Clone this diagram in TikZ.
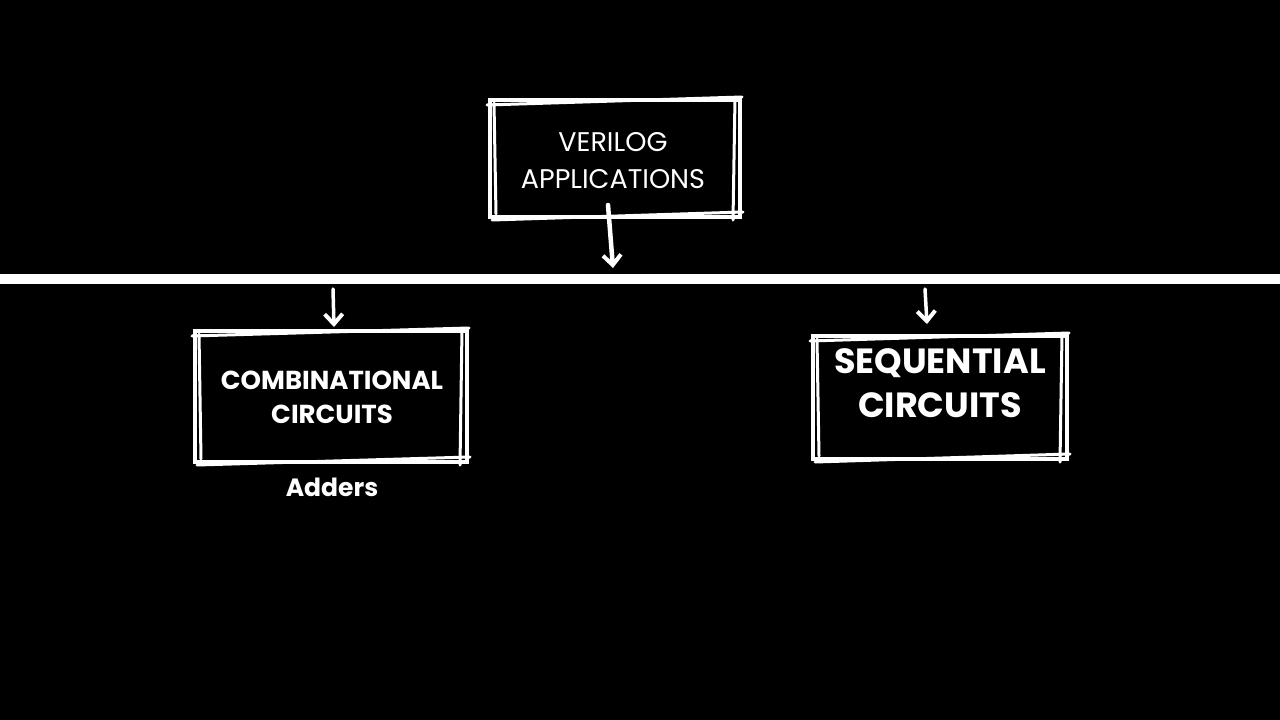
\documentclass[tikz,border=0pt]{standalone}
\usepackage{fontspec}
\setmainfont{Poppins}
\usetikzlibrary{arrows.meta}
\tikzset{
  sk/.style={draw=white,line width=4.5pt,line cap=round},
  skt/.style={draw=white,line width=3pt,line cap=round},
  arr/.style={white,line width=4.5pt,line cap=round,-{Straight Barb[length=10pt,width=18pt,line width=4pt]}},
  lbl/.style={text=white,align=center}
}
\newcommand{\sketchbox}[4]{%
  \draw[sk] (#1,#2) -- (#3,#2) -- (#3,#4) -- (#1,#4) -- cycle;
  \draw[skt] (#1-3,#2+5) -- (#3+2,#2-3);
  \draw[skt] (#3-5,#2-2) -- (#3-7,#4+3);
  \draw[skt] (#3+3,#4-5) -- (#1+2,#4+3);
  \draw[skt] (#1+6,#4-3) -- (#1+4,#2+3);
}
\begin{document}
\begin{tikzpicture}[x=1pt,y=-1pt]
\fill[black] (0,0) rectangle (1280,720);
\useasboundingbox (0,0) rectangle (1280,720);
\sketchbox{490}{100}{740}{217}
\sketchbox{195}{331}{467}{462}
\sketchbox{813}{336}{1067}{459}
\node[lbl,font=\fontsize{27}{37}\selectfont] (top) at (613,161) {VERILOG\\APPLICATIONS};
\node[lbl,font=\bfseries\fontsize{26}{34}\selectfont] (comb) at (332,397) {COMBINATIONAL\\CIRCUITS};
\node[lbl,font=\bfseries\fontsize{35}{44}\selectfont] (seq) at (940,383) {SEQUENTIAL\\CIRCUITS};
\node[lbl,font=\bfseries\fontsize{25}{30}\selectfont] (add) at (332,487) {Adders};
\fill[white] (0,274) rectangle (1280,284);
\coordinate (bt) at (608,205);
\coordinate (bb) at (613,268);
\draw[arr] (bt) -- (bb);
\coordinate (c1) at (333,289);
\coordinate (c2) at (334,327);
\draw[arr,line width=3.5pt] (c1) -- (c2);
\coordinate (s1) at (925,289);
\coordinate (s2) at (927,324);
\draw[arr,line width=3.5pt] (s1) -- (s2);
\end{tikzpicture}
\end{document}
